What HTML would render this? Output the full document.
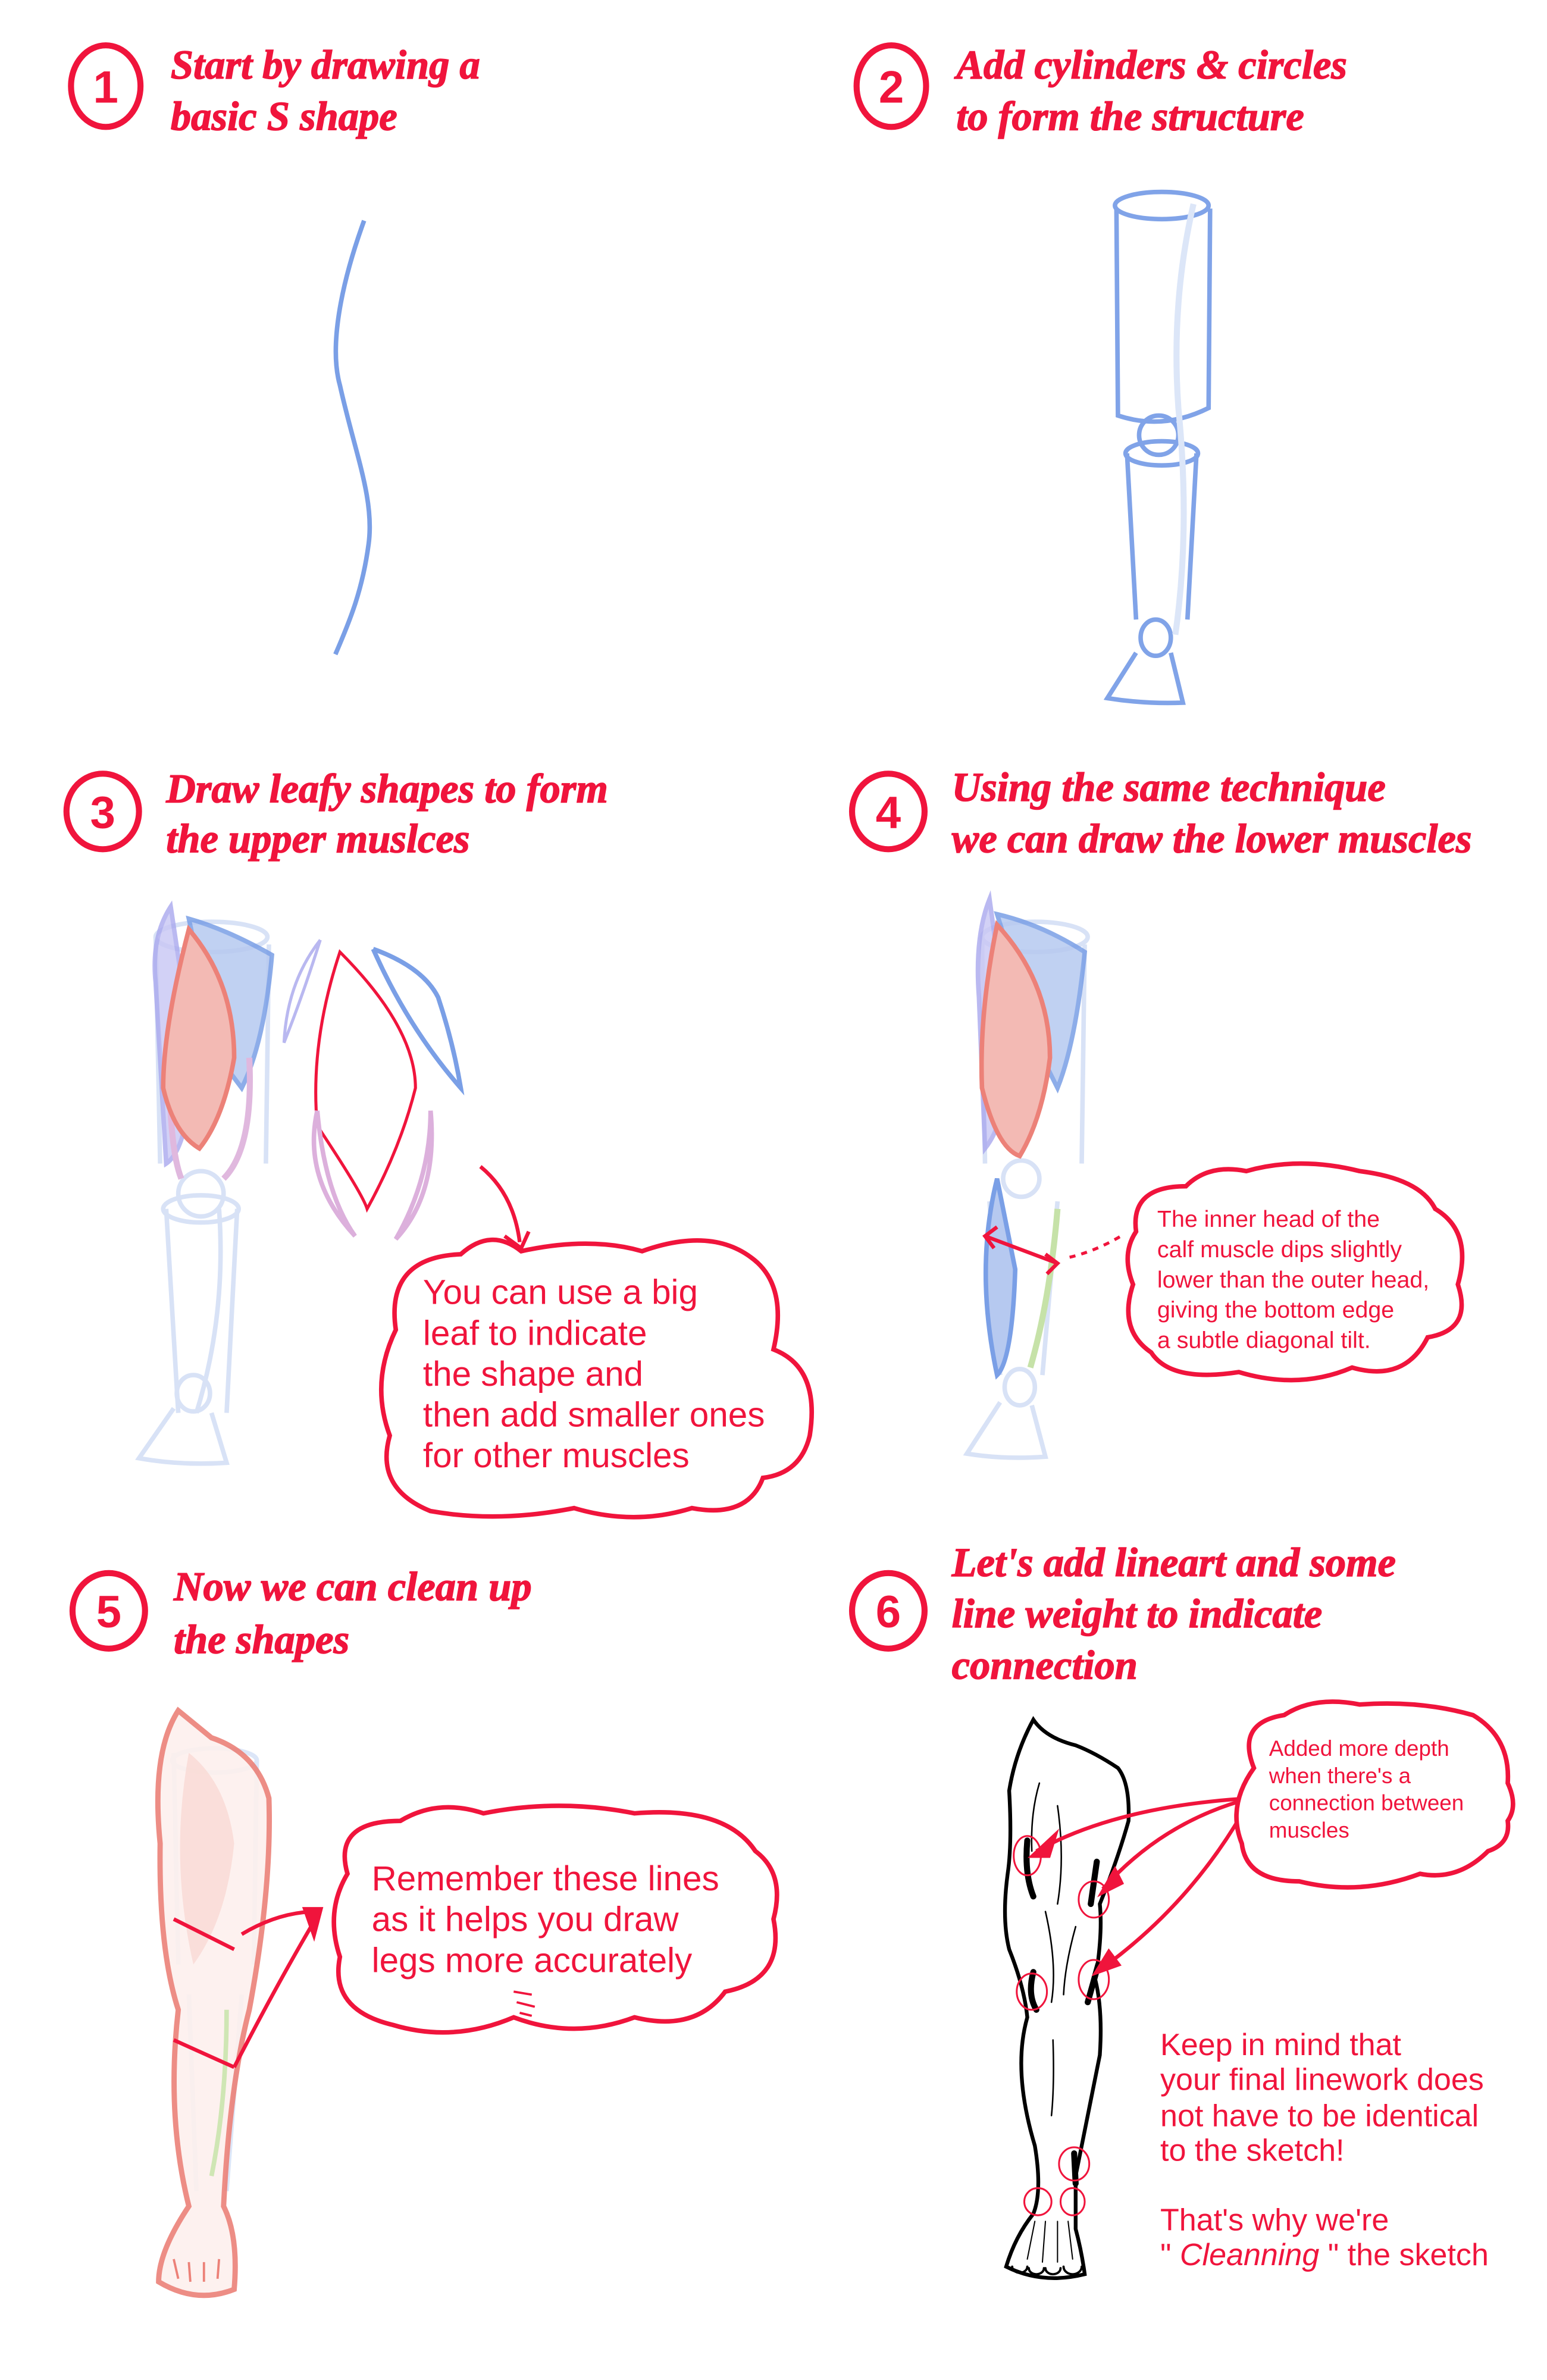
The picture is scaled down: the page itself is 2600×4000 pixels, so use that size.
<!DOCTYPE html>
<html><head><meta charset="utf-8"><style>
html,body{margin:0;padding:0;background:#fff}
svg{display:block}
.t{font-family:"Liberation Serif",serif;font-weight:bold;font-style:italic;fill:#f0143c;font-size:27px;stroke:#f0143c;stroke-width:0.6}
.h{font-family:"Liberation Sans",sans-serif;fill:#f0143c}
.num{font-family:"Liberation Sans",sans-serif;font-weight:bold;fill:#f0143c;font-size:30px}
</style></head><body>
<svg width="2600" height="4000" viewBox="0 0 1024 1575" preserveAspectRatio="none" xmlns="http://www.w3.org/2000/svg">
<rect width="1024" height="1575" fill="#fff"/>
<g fill="none" stroke="#f0143c" stroke-width="4">
<ellipse cx="70" cy="57" rx="23" ry="27"/>
<ellipse cx="590" cy="57" rx="23" ry="27"/>
<ellipse cx="68" cy="537" rx="24" ry="25"/>
<ellipse cx="588" cy="537" rx="24" ry="25"/>
<ellipse cx="72" cy="1066" rx="24" ry="25"/>
<ellipse cx="588" cy="1066" rx="24" ry="25"/>
</g>
<text class="num" x="70" y="68" text-anchor="middle">1</text>
<text class="num" x="590" y="68" text-anchor="middle">2</text>
<text class="num" x="68" y="548" text-anchor="middle">3</text>
<text class="num" x="588" y="548" text-anchor="middle">4</text>
<text class="num" x="72" y="1077" text-anchor="middle">5</text>
<text class="num" x="588" y="1077" text-anchor="middle">6</text>

<text class="t" x="113" y="52">Start by drawing a</text>
<text class="t" x="113" y="86">basic S shape</text>
<text class="t" x="633" y="52">Add cylinders &amp; circles</text>
<text class="t" x="633" y="86">to form the structure</text>
<text class="t" x="110" y="531">Draw leafy shapes to form</text>
<text class="t" x="110" y="564">the upper muslces</text>
<text class="t" x="630" y="530">Using the same technique</text>
<text class="t" x="630" y="564">we can draw the lower muscles</text>
<text class="t" x="115" y="1059">Now we can clean up</text>
<text class="t" x="115" y="1094">the shapes</text>
<text class="t" x="630" y="1043">Let's add lineart and some</text>
<text class="t" x="630" y="1077">line weight to indicate</text>
<text class="t" x="630" y="1111">connection</text>

<path d="M241,146 C225,190 218,230 225,255 C235,300 248,330 244,360 C240,390 232,410 222,433" fill="none" stroke="#7a9fe6" stroke-width="3"/>

<g fill="none" stroke="#80a3e8" stroke-width="3">
<ellipse cx="769" cy="136" rx="31" ry="9"/>
<path d="M739,138 L740,275 Q770,285 800,270 L801,138"/>
<circle cx="767" cy="288" r="13"/>
<ellipse cx="769" cy="300" rx="24" ry="8"/>
<path d="M746,300 L752,410 M792,300 L786,410"/>
<ellipse cx="765" cy="422" rx="10" ry="12"/>
<path d="M752,432 L733,462 Q758,466 783,465 L775,432"/>
</g>
<path d="M790,135 Q775,200 780,270 Q788,350 778,420" fill="none" stroke="#dce6f8" stroke-width="4"/>

<g fill="none" stroke="#d8e2f6" stroke-width="3">
<ellipse cx="140" cy="620" rx="37" ry="10"/>
<path d="M103,620 L106,770 M178,625 L176,770"/>
<circle cx="133" cy="790" r="15"/>
<ellipse cx="133" cy="800" rx="25" ry="9"/>
<path d="M110,800 L118,935 M157,800 L150,935 M145,800 Q150,870 130,935"/>
<ellipse cx="128" cy="922" rx="11" ry="12"/>
<path d="M115,932 L92,965 Q120,970 150,968 L140,935"/>
</g>
<path d="M113,600 Q100,620 103,650 L110,770 Q125,760 128,700 Z" fill="#c8c6f4" stroke="#a9a8ee" stroke-width="3" opacity=".8"/>
<path d="M125,608 Q150,615 180,632 Q175,690 160,720 L145,700 Z" fill="#b6c9f0" stroke="#7a9fe6" stroke-width="3" opacity=".85"/>
<path d="M112,700 Q112,760 120,780 M165,700 Q168,760 148,780" fill="none" stroke="#e0b8de" stroke-width="4"/>
<path d="M125,615 Q108,680 108,720 Q115,750 132,760 Q148,740 155,700 Q155,650 125,615 Z" fill="#f3bab4" stroke="#ec8178" stroke-width="3"/>
<g fill="none" stroke-width="2">
<path d="M212,622 Q190,650 188,690 Q200,660 212,622" stroke="#b9b8f0"/>
<path d="M225,630 Q205,690 210,745 Q240,790 243,800 Q265,760 275,720 Q275,680 225,630 Z" stroke="#f0143c"/>
<path d="M247,628 Q280,640 290,660 Q300,690 305,720 Q270,680 247,628" stroke="#7a9fe6" stroke-width="3"/>
<path d="M210,735 Q200,780 235,818 Q215,790 210,735 M285,735 Q285,780 262,820 Q290,790 285,735" stroke="#dcb0dc" stroke-width="3"/>
</g>
<path d="M318,772 Q340,790 344,822" fill="none" stroke="#f0143c" stroke-width="2.5"/>
<path d="M334,818 L345,826 L350,815" fill="none" stroke="#f0143c" stroke-width="2.5"/>
<path d="M262,880 Q255,832 305,830 Q325,812 345,828 Q390,818 425,828 Q470,812 497,832 Q522,850 512,893 Q543,905 536,950 Q530,975 505,978 Q495,1005 458,998 Q420,1010 380,998 Q330,1008 285,1000 Q248,985 258,950 Q245,915 262,880 Z" fill="#fff" stroke="#f0143c" stroke-width="3"/>
<g class="h" font-size="23">
<text x="280" y="863">You can use a big</text>
<text x="280" y="890">leaf to indicate</text>
<text x="280" y="917">the shape and</text>
<text x="280" y="944">then add smaller ones</text>
<text x="280" y="971">for other muscles</text>
</g>

<g fill="none" stroke="#d8e2f6" stroke-width="3">
<ellipse cx="685" cy="620" rx="35" ry="10"/>
<path d="M650,620 L652,770 M718,625 L716,770"/>
<circle cx="676" cy="780" r="12"/>
<path d="M655,795 L662,910 M700,795 L690,910"/>
<ellipse cx="675" cy="918" rx="10" ry="12"/>
<path d="M662,928 L640,962 Q665,966 692,964 L683,930"/>
</g>
<path d="M655,595 Q645,620 648,660 L652,760 Q668,740 668,690 Z" fill="#c8c6f4" stroke="#a9a8ee" stroke-width="3" opacity=".8"/>
<path d="M660,605 Q690,612 718,630 Q712,690 700,720 L690,700 Z" fill="#b6c9f0" stroke="#7a9fe6" stroke-width="3" opacity=".85"/>
<path d="M660,612 Q648,670 650,720 Q660,760 675,765 Q690,740 695,700 Q695,650 660,612 Z" fill="#f3bab4" stroke="#ec8178" stroke-width="3"/>
<path d="M660,780 Q645,840 660,910 Q670,900 672,840 Z" fill="#b6c9f0" stroke="#7a9fe6" stroke-width="3"/>
<path d="M700,800 Q695,860 682,905" fill="none" stroke="#c6e2a8" stroke-width="4"/>
<path d="M652,818 L700,836" stroke="#f0143c" stroke-width="2.5"/>
<path d="M660,812 L652,818 L658,826 M692,830 L700,836 L693,843" fill="none" stroke="#f0143c" stroke-width="2.5"/>
<path d="M708,832 Q725,828 742,818" fill="none" stroke="#f0143c" stroke-width="2" stroke-dasharray="4 4"/>
<path d="M752,815 Q748,785 785,785 Q800,770 825,775 Q860,765 900,775 Q940,780 950,800 Q975,815 965,850 Q975,880 945,885 Q930,915 895,905 Q860,920 820,908 Q775,915 762,895 Q740,880 750,850 Q742,830 752,815 Z" fill="#fff" stroke="#f0143c" stroke-width="3"/>
<g class="h" font-size="15.5">
<text x="766" y="812">The inner head of the</text>
<text x="766" y="832">calf muscle dips slightly</text>
<text x="766" y="852">lower than the outer head,</text>
<text x="766" y="872">giving the bottom edge</text>
<text x="766" y="892">a subtle diagonal tilt.</text>
</g>

<!-- panel 5 -->
<g fill="none" stroke="#dce6f8" stroke-width="3">
<path d="M115,1160 L118,1300 M170,1165 L168,1300 M125,1320 L130,1450 M160,1320 L150,1450"/>
<ellipse cx="142" cy="1165" rx="28" ry="8"/>
</g>
<path d="M118,1132 Q100,1160 106,1220 Q105,1290 118,1330 Q110,1400 125,1460 Q105,1490 105,1510 Q130,1525 155,1515 Q158,1480 148,1460 Q152,1380 165,1330 Q180,1250 178,1190 Q170,1160 140,1150 Z" fill="#fdf0ee" stroke="#ec8178" stroke-width="3.5" opacity=".9"/>
<path d="M125,1160 Q112,1230 128,1300 Q150,1270 155,1220 Q150,1180 125,1160 Z" fill="#f8d2cc" opacity=".6"/>
<path d="M150,1330 Q150,1390 140,1440" fill="none" stroke="#cfe6b4" stroke-width="3"/>
<path d="M115,1495 L118,1508 M125,1497 L126,1510 M135,1497 L135,1510 M145,1495 L144,1508" stroke="#ec8178" stroke-width="1.5"/>
<path d="M115,1270 L155,1290 M115,1350 L155,1368" stroke="#f0143c" stroke-width="2.5"/>
<path d="M160,1280 Q185,1265 210,1265 M155,1368 Q185,1310 210,1268" fill="none" stroke="#f0143c" stroke-width="2.5"/>
<path d="M200,1262 L214,1262 L208,1285 Z" fill="#f0143c"/>
<path d="M230,1240 Q220,1205 265,1205 Q290,1190 320,1200 Q370,1190 420,1200 Q480,1195 500,1225 Q520,1240 512,1270 Q520,1310 480,1318 Q460,1345 420,1335 Q380,1350 340,1335 Q300,1352 260,1340 Q218,1330 225,1295 Q215,1265 230,1240 Z" fill="#fff" stroke="#f0143c" stroke-width="3"/>
<g class="h" font-size="23">
<text x="246" y="1251">Remember these lines</text>
<text x="246" y="1278">as it helps you draw</text>
<text x="246" y="1305">legs more accurately</text>
</g>
<path d="M340,1318 L352,1320 M342,1325 L354,1328 M344,1332 L352,1334" stroke="#f0143c" stroke-width="1.5"/>

<!-- panel 6 leg -->
<g fill="none" stroke="#000" stroke-width="2.5" stroke-linecap="round">
<path d="M684,1138 Q672,1160 668,1185 Q670,1220 667,1240 Q663,1270 668,1290 Q678,1315 680,1335 Q670,1370 685,1420 Q690,1450 684,1465 Q672,1480 666,1500 Q690,1512 718,1505 Q716,1490 712,1475 Q712,1450 712,1440 Q720,1400 728,1360 Q730,1330 725,1310 Q730,1280 728,1260 Q740,1230 747,1205 Q748,1180 740,1170 Q725,1160 712,1155 Q692,1150 684,1138 Z"/>
<path d="M688,1180 Q682,1200 683,1225 M700,1195 Q705,1230 700,1260 M692,1265 Q700,1300 696,1325 M712,1275 Q705,1300 704,1320 M697,1350 Q698,1380 696,1400" stroke-width="1"/>
<path d="M680,1218 Q678,1240 684,1255 M726,1232 L722,1260 M684,1305 Q680,1320 686,1330 M727,1300 L720,1325 M711,1425 L712,1445" stroke-width="4"/>
<path d="M685,1470 L680,1495 M692,1470 L690,1497 M700,1470 L700,1497 M707,1470 L710,1495" stroke-width="0.8"/>
<path d="M670,1500 a5,4 0 1,0 10,0 M681,1501 a5,4 0 1,0 10,0 M692,1501 a5,4 0 1,0 10,0 M704,1500 a6,5 0 1,0 12,0" stroke-width="1.5"/>
</g>
<g fill="none" stroke="#f0143c" stroke-width="1.2">
<ellipse cx="680" cy="1228" rx="9" ry="13"/>
<ellipse cx="724" cy="1257" rx="10" ry="12"/>
<ellipse cx="683" cy="1318" rx="10" ry="12"/>
<ellipse cx="724" cy="1310" rx="10" ry="13"/>
<ellipse cx="711" cy="1432" rx="10" ry="11"/>
<ellipse cx="687" cy="1457" rx="9" ry="9"/>
<ellipse cx="710" cy="1457" rx="8" ry="9"/>
</g>
<g fill="none" stroke="#f0143c" stroke-width="2.5">
<path d="M828,1190 Q740,1195 686,1225"/>
<path d="M828,1190 Q770,1205 730,1250"/>
<path d="M828,1190 Q790,1260 726,1305"/>
</g>
<path d="M684,1228 L698,1215 L694,1228 Z M730,1252 L738,1238 L742,1246 Z M726,1305 L734,1292 L740,1300 Z" fill="#f0143c" stroke="#f0143c" stroke-width="3"/>
<path d="M830,1170 Q818,1140 850,1135 Q870,1122 900,1128 Q940,1125 975,1135 Q1000,1150 998,1180 Q1005,1195 998,1205 Q1000,1220 985,1225 Q965,1245 940,1240 Q900,1255 860,1245 Q825,1245 822,1220 Q812,1195 830,1170 Z" fill="#fff" stroke="#f0143c" stroke-width="3"/>
<g class="h" font-size="14.5">
<text x="840" y="1162">Added more depth</text>
<text x="840" y="1180">when there's a</text>
<text x="840" y="1198">connection between</text>
<text x="840" y="1216">muscles</text>
</g>
<g class="h" font-size="20.5">
<text x="768" y="1360">Keep in mind that</text>
<text x="768" y="1383">your final linework does</text>
<text x="768" y="1407">not have to be identical</text>
<text x="768" y="1430">to the sketch!</text>
<text x="768" y="1476">That's why we're</text>
<text x="768" y="1499">" <tspan font-style="italic">Cleanning</tspan> " the sketch</text>
</g>
</svg>
</body></html>
